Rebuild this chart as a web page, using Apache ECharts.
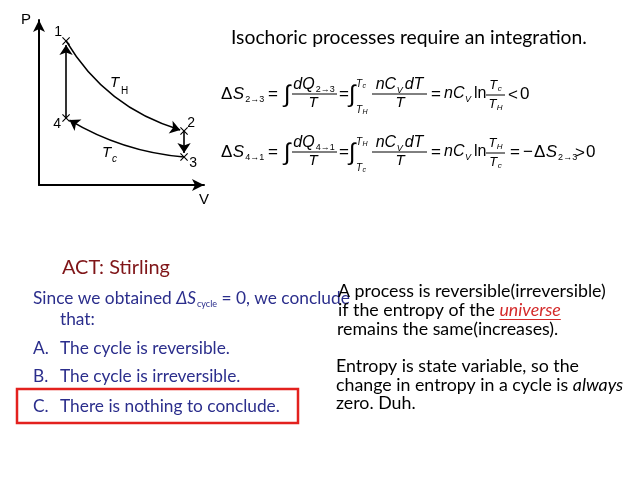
<!DOCTYPE html>
<html><head><meta charset="utf-8">
<script src="https://cdn.jsdelivr.net/npm/echarts/dist/echarts.min.js"></script>
<style>html,body{margin:0;padding:0;background:#fff}#c{width:638px;height:479px}</style>
</head><body><div id="c"></div>
<script>
// ---- data ----
const pointNames = ['1', '2', '3', '4'];
const volumes = [1.64, 8.79, 8.79, 1.64];
const pressures = [8.73, 3.27, 1.70, 4.06];
const processFrom = ['1', '2', '3', '4'];
const processTo = ['2', '3', '4', '1'];
const axisNames = ['V', 'P'];
const axisMin = 0, axisMax = 10;

const titleText = 'Isochoric processes require an integration.';
const actTitle = 'ACT: Stirling';
const questionStart = 'Since we obtained ';
const questionSymbol = 'ΔS';
const questionSub = 'cycle';
const questionEnd = ' = 0, we conclude';
const questionCont = 'that:';
const choiceLetters = ['A.', 'B.', 'C.'];
const choiceTexts = ['The cycle is reversible.', 'The cycle is irreversible.', 'There is nothing to conclude.'];
const noteLines1 = ['A process is reversible(irreversible)', 'if the entropy of the ', 'remains the same(increases).'];
const noteWord = 'universe';
const noteLines2 = ['Entropy is state variable, so the', 'change in entropy in a cycle is ', 'zero. Duh.'];
const noteItalic = 'always';

// ---- styling helpers ----
const bends = [-0.2, 0, 0.12, 0];
const labelOffsets = [[-8, -9], [7, -8], [9, 6], [-9, 6]];
const xMark = 'path://M1,0L5,4L9,0L10,1L6,5L10,9L9,10L5,6L1,10L0,9L4,5L0,1Z';

const ctx = document.createElement('canvas').getContext('2d');
function measure(text, fam, size, style) {
  ctx.font = (style || 'normal') + ' ' + size + 'px "' + fam + '"';
  return ctx.measureText(text).width;
}
function fit(text, fam, target, style) { return 100 * target / measure(text, fam, 100, style); }

const EQ = 'Liberation Sans';
const SL = 'Lato';
const K = { 'Liberation Sans': 0.347, 'Lato': 0.387 };

// text with left x and baseline
function tb(text, x, base, size, fam, color, style, align) {
  const font = (style || 'normal') + ' ' + size + 'px "' + fam + '"';
  return { type: 'text', x: x, y: base - K[fam] * size, silent: true,
    style: { text: text, font: font, fill: color || '#000', align: align || 'left', textAlign: align || 'left',
      verticalAlign: 'middle', textVerticalAlign: 'middle' } };
}
// equation text with vertical middle
function em(text, x, ym, size, italic, align) {
  const font = (italic ? 'italic ' : 'normal ') + size + 'px "' + EQ + '"';
  return { type: 'text', x: x, y: ym, silent: true,
    style: { text: text, font: font, fill: '#000', align: align || 'left', textAlign: align || 'left',
      verticalAlign: 'middle', textVerticalAlign: 'middle' } };
}
// flow of equation pieces: [text, size, italic, dy, gapAfter]
function flowW(pieces) {
  let w = 0;
  pieces.forEach(function (p) { w += measure(p[0], EQ, p[1], p[2] ? 'italic' : 'normal') + (p[4] || 0); });
  return w;
}
function flow(pieces, x, y, center) {
  if (center) x = x - flowW(pieces) / 2;
  pieces.forEach(function (p) {
    g.push(em(p[0], x, y + (p[3] || 0), p[1], p[2]));
    x += measure(p[0], EQ, p[1], p[2] ? 'italic' : 'normal') + (p[4] || 0);
  });
  return x;
}
function bar(x1, x2, y) {
  return { type: 'line', silent: true, shape: { x1: x1, y1: y, x2: x2, y2: y }, style: { stroke: '#000', lineWidth: 1 } };
}

const g = [];
// title
const titleSize = fit(titleText, SL, 356);
g.push(tb(titleText, 231, 45, titleSize, SL, '#000'));

// equations
function eqRow(dy, sub, up, low, lnNum, lnDen, last) {
  const y = 94 + dy;
  flow([['Δ', 17, false, 0, 0.5], ['S', 17, true, 0, 1], [sub, 9, false, 6]], 221, y);
  g.push(em('=', 268, y, 17, false));
  g.push(em('∫', 284, y + 1, 24, false));
  flow([['dQ', 16, true, 0, 1], [sub, 9, false, 5]], 314, y - 9, true);
  g.push(bar(292, 337, y));
  g.push(em('T', 313, y + 9, 15, true, 'center'));
  g.push(em('=', 339, y, 17, false));
  g.push(em('∫', 349, y + 1, 24, false));
  flow([['T', 10, true, 0, 0.5], [up, 7, true, 2]], 356, y - 10);
  flow([['T', 10, true, 0, 0.5], [low, 7, true, 2]], 356, y + 16);
  flow([['nC', 16, true, 0, 0.5], ['V', 9, true, 5, 2], ['dT', 16, true, 0]], 399.5, y - 9, true);
  g.push(bar(372, 427, y));
  g.push(em('T', 400, y + 9, 15, true, 'center'));
  g.push(em('=', 431, y, 17, false));
  flow([['nC', 16, true, 0, 0.5], ['V', 9, true, 5, 3], ['ln', 16, false, 0]], 444, y);
  flow([['T', 13, true, 0, 0.5], [lnNum, 8, true, 4]], 495.5, y - 9, true);
  g.push(bar(486, 505, y + 1));
  flow([['T', 13, true, 0, 0.5], [lnDen, 8, true, 4]], 495.5, y + 10, true);
  last(y);
}
eqRow(0, '2→3', 'c', 'H', 'c', 'H', function (y) {
  g.push(em('<', 508, y + 1, 17, false), em('0', 520, y, 17, false));
});
eqRow(58, '4→1', 'H', 'c', 'H', 'c', function (y) {
  g.push(em('=', 510, y, 17, false));
  flow([['−', 17, false, 0, 1], ['Δ', 17, false, 0, 0.5], ['S', 17, true, 0, 1], ['2→3', 9, false, 6]], 523, y);
  g.push(em('>', 575, y + 1, 17, false), em('0', 586, y, 17, false));
});

// diagram annotations
g.push(em('T', 110, 82.5, 15, true), em('H', 121, 91, 10, false));
g.push(em('T', 102, 152.5, 15, true), em('c', 112, 159, 10, true));

// ACT block
const red = '#7F1518', blue = '#2B2E8C';
g.push(tb(actTitle, 62, 275, fit(actTitle, SL, 108), SL, red));
const bs = fit(choiceTexts[0], SL, 170);
let qx = 33;
g.push(tb(questionStart, qx, 305, bs, SL, blue)); qx += measure(questionStart, SL, bs);
g.push(tb(questionSymbol, qx, 305, bs, SL, blue, 'italic')); qx += measure(questionSymbol, SL, bs, 'italic') + 1;
g.push(tb(questionSub, qx, 308, 9, SL, blue)); qx += measure(questionSub, SL, 9);
g.push(tb(questionEnd, qx, 305, bs, SL, blue));
g.push(tb(questionCont, 60, 326, bs, SL, blue));
const choiceBase = [355, 383, 413];
choiceLetters.forEach(function (l, i) {
  g.push(tb(l, 33, choiceBase[i], bs, SL, blue));
  g.push(tb(choiceTexts[i], 60, choiceBase[i], bs, SL, blue));
});
g.push({ type: 'rect', silent: true, shape: { x: 17, y: 389, width: 281, height: 34 }, style: { fill: 'none', stroke: '#E3211E', lineWidth: 2.5 } });

// notes
const ns = fit(noteLines1[0], SL, 268);
g.push(tb(noteLines1[0], 338, 298, ns, SL, '#000'));
g.push(tb(noteLines1[1], 338, 317, ns, SL, '#000'));
const ux = 338 + measure(noteLines1[1], SL, ns);
g.push(tb(noteWord, ux, 317, ns, SL, '#D42A2A', 'italic'));
const uw = measure(noteWord, SL, ns, 'italic');
g.push({ type: 'line', silent: true, shape: { x1: ux, y1: 319.5, x2: ux + uw, y2: 319.5 }, style: { stroke: '#D42A2A', lineWidth: 1 } });
g.push(tb(noteLines1[2], 337, 336, ns, SL, '#000'));
g.push(tb(noteLines2[0], 336, 373, ns, SL, '#000'));
g.push(tb(noteLines2[1], 336, 392, ns, SL, '#000'));
g.push(tb(noteItalic, 336 + measure(noteLines2[1], SL, ns), 392, ns, SL, '#000', 'italic'));
g.push(tb(noteLines2[2], 336, 410, ns, SL, '#000'));

const axisLineStyle = { show: true, onZero: true, symbol: ['none', 'arrow'], symbolSize: [9, 12], lineStyle: { color: '#000', width: 2 } };
const option = {
  animation: false,
  backgroundColor: '#fff',
  grid: { left: 39, top: 20, width: 165, height: 165, containLabel: false, outerBoundsMode: 'none' },
  xAxis: { type: 'value', min: axisMin, max: axisMax, name: axisNames[0], nameLocation: 'end', nameGap: 0,
    nameTextStyle: { fontFamily: EQ, fontSize: 15, color: '#000', align: 'center', verticalAlign: 'top', padding: [7, 0, 0, 0] },
    axisLine: axisLineStyle, axisTick: { show: false }, axisLabel: { show: false }, splitLine: { show: false } },
  yAxis: { type: 'value', min: axisMin, max: axisMax, name: axisNames[1], nameLocation: 'end', nameGap: 0,
    nameTextStyle: { fontFamily: EQ, fontSize: 15, color: '#000', align: 'right', verticalAlign: 'middle', padding: [0, 8, 0, 0] },
    axisLine: axisLineStyle, axisTick: { show: false }, axisLabel: { show: false }, splitLine: { show: false } },
  series: [{
    type: 'graph', coordinateSystem: 'cartesian2d', layout: 'none', silent: true,
    symbol: xMark, symbolSize: 8, itemStyle: { color: '#000' },
    edgeSymbol: ['none', 'arrow'], edgeSymbolSize: 10,
    lineStyle: { color: '#000', width: 1.6, opacity: 1 },
    label: { show: true, formatter: '{b}', position: 'inside', fontFamily: EQ, fontSize: 14, color: '#000' },
    emphasis: { disabled: true },
    data: pointNames.map(function (n, i) {
      return { name: n, value: [volumes[i], pressures[i]], label: { offset: labelOffsets[i] } };
    }),
    links: processFrom.map(function (f, i) {
      return { source: f, target: processTo[i], lineStyle: { curveness: bends[i] } };
    })
  }],
  graphic: { elements: g }
};
const chart = echarts.init(document.getElementById('c'), null, { renderer: 'canvas' });
chart.setOption(option);
</script></body></html>
